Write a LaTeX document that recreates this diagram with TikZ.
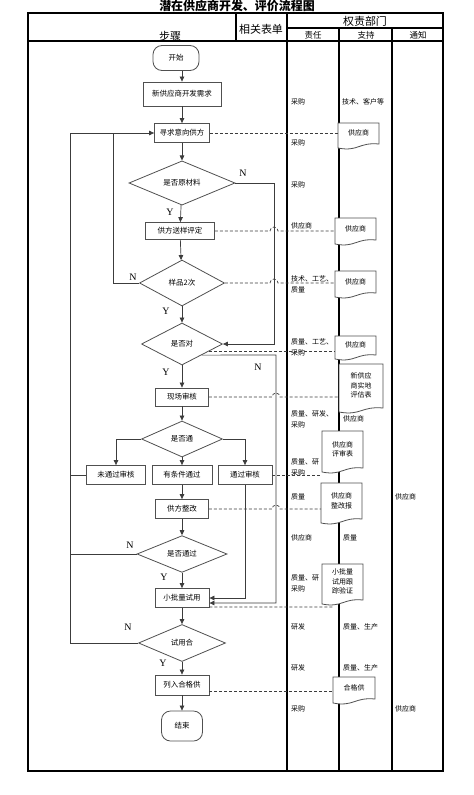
\documentclass[tikz,border=0pt]{standalone}
\usepackage{fontspec}
\setmainfont{Liberation Serif}
\newfontfamily\cjk{Noto Sans CJK SC}
\usetikzlibrary{arrows.meta, shapes.geometric, calc}
\definecolor{FlowGray}{RGB}{60,60,60}
\definecolor{BoxGray}{RGB}{80,80,80}
\tikzset{
  stepbox/.style={draw=BoxGray, fill=white, line width=0.8pt, inner sep=0pt,
    font=\cjk\fontsize{7.5}{9}\selectfont},
  decision/.style={stepbox, diamond},
  terminal/.style={stepbox, rounded corners=9bp},
  flow/.style={draw=FlowGray, line width=0.7pt},
  arr/.style={flow, -{Triangle[length=5bp,width=4.5bp]}},
  link/.style={draw=FlowGray, line width=0.7pt, dash pattern=on 3bp off 2bp},
  yn/.style={font=\fontsize{10}{10}\selectfont, inner sep=0pt},
  duty/.style={anchor=west, align=left, inner sep=0pt, font=\cjk\fontsize{7}{11}\selectfont},
  doctext/.style={anchor=north west, align=center, inner sep=0pt, font=\cjk\fontsize{7}{9.5}\selectfont},
  docline/.style={draw=BoxGray, fill=white, line width=0.8pt},
  tableline/.style={draw=black, line width=1.3pt},
  head/.style={font=\cjk\fontsize{11}{12}\selectfont, inner sep=0pt},
  subhead/.style={font=\cjk\fontsize{8.5}{9}\selectfont, inner sep=0pt},
}
% name, x, y, width, text height, text
\newcommand\docshape[6]{%
  \draw[docline] (#2,#3) -- (#2+#4,#3) -- (#2+#4,#3+#5+1)
    .. controls (#2+#4/2,#3+#5-1) and (#2+#4/2,#3+#5+9) .. (#2,#3+#5+5) -- cycle;
  \node[doctext, minimum width=#4bp, minimum height=#5bp] (#1) at (#2,#3) {#6};
}

\begin{document}
\begin{tikzpicture}[x=1bp,y=-1bp]
  \fill[white] (0,0) rectangle (474,795);
  \useasboundingbox (0,0) rectangle (474,795);
  % Table
  \draw[tableline] (28,13) rectangle (443,771);
  \draw[tableline] (28,41) -- (443,41);
  \draw[tableline] (287,28) -- (443,28);
  \draw[tableline] (236,13) -- (236,41);
  \draw[tableline] (287,13) -- (287,771);
  \draw[tableline] (339,28) -- (339,771);
  \draw[tableline] (392,28) -- (392,771);
  \node[font=\cjk\bfseries\fontsize{12}{12}\selectfont, inner sep=0pt] (title) at (237,6) {潜在供应商开发、评价流程图};
  \node[head] (hStep) at (170,36) {步骤};
  \node[head] (hForm) at (261,29) {相关表单};
  \node[head] (hDept) at (365,21) {权责部门};
  \node[subhead] (hDuty) at (313,35) {责任};
  \node[subhead] (hSupport) at (366,35) {支持};
  \node[subhead] (hNotify) at (418,35) {通知};
  % Duties
  \node[duty] (r1) at (291,102) {采购};
  \node[duty] (r2) at (291,143) {采购};
  \node[duty] (r3) at (291,185) {采购};
  \node[duty] (r4) at (291,226) {供应商};
  \node[duty] (r5) at (291,284) {技术、工艺、\\质量};
  \node[duty] (r6) at (291,347) {质量、工艺、\\采购};
  \node[duty] (r7) at (291,419) {质量、研发、\\采购};
  \node[duty] (r8) at (291,467) {质量、研\\采购};
  \node[duty] (r9) at (291,497) {质量};
  \node[duty] (r10) at (291,538) {供应商};
  \node[duty] (r11) at (291,583) {质量、研\\采购};
  \node[duty] (r12) at (291,627) {研发};
  \node[duty] (r13) at (291,668) {研发};
  \node[duty] (r14) at (291,709) {采购};
  \node[duty] (s1) at (342,102) {技术、客户等};
  \node[duty] (s2) at (343,419) {供应商};
  \node[duty] (s3) at (343,538) {质量};
  \node[duty] (s4) at (343,627) {质量、生产};
  \node[duty] (s5) at (343,668) {质量、生产};
  \node[duty] (n1) at (395,497) {供应商};
  \node[duty] (n2) at (395,709) {供应商};
  % Forms
  \docshape{docSeek}{338}{123}{41}{20}{供应商}
  \docshape{docSample}{335}{218}{41}{21}{供应商}
  \docshape{docTwice}{335}{271}{41}{21}{供应商}
  \docshape{docRight}{335}{336}{41}{18}{供应商}
  \docshape{docSite}{339}{364}{44}{43}{新供应\\商实地\\评估表}
  \docshape{docReview}{322}{431}{41}{36}{供应商\\评审表}
  \docshape{docRectify}{321}{483}{41}{35}{供应商\\整改报}
  \docshape{docPilot}{322}{564}{41}{35}{小批量\\试用跟\\踪验证}
  \docshape{docQualified}{333}{677}{42}{21}{合格供}
  % Steps
  \node[terminal, minimum width=46bp, minimum height=25bp] (start) at (176,58) {开始};
  \node[stepbox, minimum width=78bp, minimum height=24bp] (demand) at (182,94) {新供应商开发需求};
  \node[stepbox, minimum width=55bp, minimum height=19bp] (seek) at (182,133) {寻求意向供方};
  \node[decision, minimum width=106bp, minimum height=41bp] (raw) at (182,183) {是否原材料};
  \node[stepbox, minimum width=69bp, minimum height=17bp] (sample) at (180,231) {供方送样评定};
  \node[decision, minimum width=85bp, minimum height=46bp] (twice) at (182,283) {样品2次};
  \node[decision, minimum width=81bp, minimum height=42bp] (right) at (182,344) {是否对};
  \node[stepbox, minimum width=53bp, minimum height=18bp] (site) at (182,397) {现场审核};
  \node[decision, minimum width=81bp, minimum height=36bp] (passq) at (182,439) {是否通};
  \node[stepbox, minimum width=59bp, minimum height=19bp] (fail) at (116,475) {未通过审核};
  \node[stepbox, minimum width=60bp, minimum height=19bp] (cond) at (182,475) {有条件通过};
  \node[stepbox, minimum width=54bp, minimum height=19bp] (pass) at (245,475) {通过审核};
  \node[stepbox, minimum width=53bp, minimum height=19bp] (rectify) at (182,509) {供方整改};
  \node[decision, minimum width=90bp, minimum height=34bp] (recheck) at (182,554) {是否通过};
  \node[stepbox, minimum width=54bp, minimum height=19bp] (pilot) at (182,598) {小批量试用};
  \node[decision, minimum width=87bp, minimum height=37bp] (trial) at (182,643) {试用合};
  \node[stepbox, minimum width=54bp, minimum height=20bp] (qualify) at (182,685) {列入合格供};
  \node[terminal, minimum width=41bp, minimum height=30bp] (finish) at (182,726) {结束};
  % Main flow
  \draw[arr] (demand.north |- start.south) -- (demand.north);
  \foreach \a/\b in {demand/seek, seek/raw, raw/sample, sample/twice, twice/right,
      right/site, site/passq, passq/cond, cond/rectify, rectify/recheck,
      recheck/pilot, pilot/trial, trial/qualify, qualify/finish}
    \draw[arr] (\a) -- (\b);
  \draw[arr] (passq.west) -| (fail.north);
  \draw[arr] (passq.east) -| (pass.north);
  % Loops back
  \coordinate (loopL) at (70,133);
  \coordinate (loopM) at (113,133);
  \draw[flow] (twice.west) -| (loopM);
  \draw[flow] (trial.west) -| (loopL);
  \draw[flow] (fail.west) -- (fail.west -| loopL);
  \draw[flow] (recheck.west) -- (recheck.west -| loopL);
  \draw[arr] (loopL) -- (seek.west);
  \coordinate (rawN) at (274,183);
  \draw[arr] (raw.east) -- (rawN) |- (right.east);
  \coordinate (rightOut) at ($(right.east)!0.52!(right.south)$);
  \coordinate (rightN) at (276,355);
  \draw[arr] (rightOut) -- (rightN) |- ([yshift=-5bp]pilot.east);
  \draw[arr] (pass.south) |- (pilot.east);
  % Form links
  \coordinate (rightD) at ($(right.east)!0.33!(right.south)$);
  \coordinate (pilotEnd) at (333,607);
  \draw[link] (seek.east) -- (seek.east -| docSeek.west);
  \draw[link] (sample.east) -- ([xshift=-4bp]sample.east -| rawN)
    arc[start angle=180, end angle=0, radius=4bp] -- (sample.east -| docSample.west);
  \draw[link] (twice.east) -- ([xshift=-4bp]twice.east -| rawN)
    arc[start angle=180, end angle=0, radius=4bp] -- (twice.east -| docTwice.west);
  \draw[link] (rightD) -- (rightD -| docRight.west);
  \draw[link] (site.east) -- ([xshift=-4bp]site.east -| rightN)
    arc[start angle=180, end angle=0, radius=4bp] -- (site.east -| docSite.west);
  \draw[link] (pass.east) -- (pass.east -| docReview.west);
  \draw[link] (rectify.east) -- ([xshift=-4bp]rectify.east -| rightN)
    arc[start angle=180, end angle=0, radius=4bp] -- (rectify.east -| docRectify.west);
  \draw[link] ([yshift=-9bp]pilot.east) -- (pilotEnd);
  \draw[link] ([yshift=-6bp]qualify.east) -- ([yshift=-6bp]qualify.east -| docQualified.west);
  % Y / N
  \node[yn] (nRaw) at (243,173) {N};
  \node[yn] (yRaw) at (170,212) {Y};
  \node[yn] (nTwice) at (133,277) {N};
  \node[yn] (yTwice) at (166,311) {Y};
  \node[yn] (yRight) at (166,372) {Y};
  \node[yn] (nRight) at (258,367) {N};
  \node[yn] (nRecheck) at (130,545) {N};
  \node[yn] (yRecheck) at (164,577) {Y};
  \node[yn] (nTrial) at (128,627) {N};
  \node[yn] (yTrial) at (163,663) {Y};
\end{tikzpicture}
\end{document}
